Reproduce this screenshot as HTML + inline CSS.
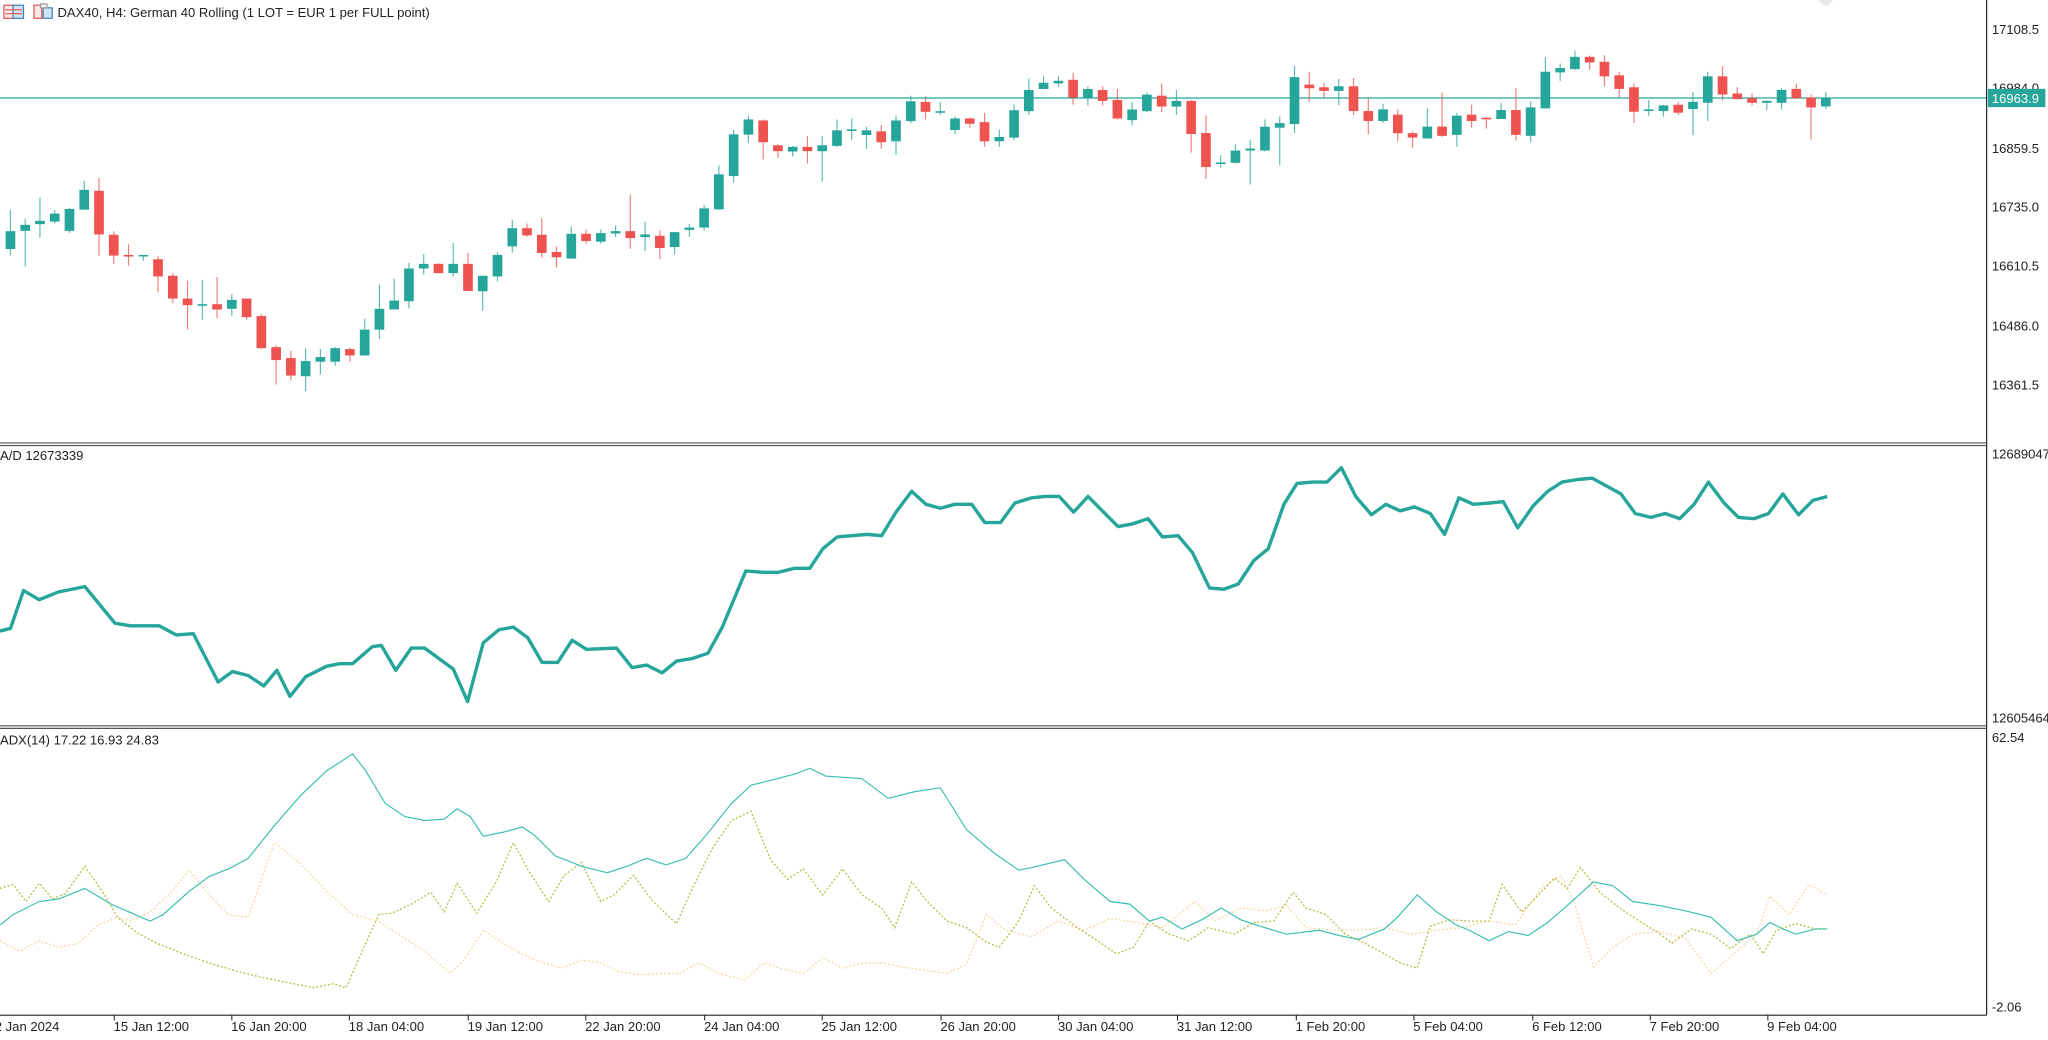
<!DOCTYPE html>
<html><head><meta charset="utf-8">
<style>
html,body{margin:0;padding:0;background:#fff;}
svg{display:block;font-family:"Liberation Sans",sans-serif;}
</style></head>
<body>
<svg id="s" width="2048" height="1040" viewBox="0 0 1568 796" preserveAspectRatio="none" xmlns="http://www.w3.org/2000/svg">
<rect width="1568" height="796" fill="#fff"/>
<line x1="0" y1="75" x2="1521" y2="75" stroke="#26a69a" stroke-width="0.9"/>
<g id="candles"></g>
<g id="ad"></g>
<g id="adx"></g>
<line x1="1521" y1="0" x2="1521" y2="777" stroke="#222" stroke-width="0.9"/>
<line x1="0" y1="777" x2="1521" y2="777" stroke="#222" stroke-width="0.9"/>
<line x1="0" y1="339" x2="1521" y2="339" stroke="#555" stroke-width="0.9"/>
<line x1="0" y1="341" x2="1521" y2="341" stroke="#555" stroke-width="0.9"/>
<line x1="0" y1="555.5" x2="1521" y2="555.5" stroke="#555" stroke-width="0.9"/>
<line x1="0" y1="557.5" x2="1521" y2="557.5" stroke="#555" stroke-width="0.9"/>
<g font-size="10" fill="#222" id="labels">
<text x="1525" y="26">17108.5</text>
<text x="1525" y="71">16984.0</text>
<text x="1525" y="117">16859.5</text>
<text x="1525" y="162">16735.0</text>
<text x="1525" y="207">16610.5</text>
<text x="1525" y="253">16486.0</text>
<text x="1525" y="298">16361.5</text>
<text x="1525" y="351">12689047</text>
<text x="1525" y="553">12605464</text>
<text x="1525" y="568">62.54</text>
<text x="1525" y="774">-2.06</text>
<text x="0" y="352">A/D 12673339</text>
<text x="0" y="570">ADX(14) 17.22 16.93 24.83</text>
<text x="44" y="13">DAX40, H4:  German 40 Rolling (1 LOT = EUR 1 per FULL point)</text>
</g>
<rect x="1522" y="68" width="44" height="14" fill="#26a69a"/>
<text x="1525" y="79" font-size="10" fill="#fff">16963.9</text>
<g stroke-width="0.9">
<rect x="3" y="4" width="7" height="10" fill="#fde8e8" stroke="#e05050"/>
<rect x="10" y="4" width="8" height="10" fill="#cfe3f5" stroke="#3a7cc0"/>
<line x1="4" y1="7.5" x2="17" y2="7.5" stroke="#e05050"/><line x1="4" y1="10.5" x2="17" y2="10.5" stroke="#e05050"/>
<rect x="26" y="4" width="6" height="10" fill="#fde8e8" stroke="#e05050"/>
<rect x="33" y="6" width="7" height="8" fill="#cfe3f5" stroke="#3a7cc0"/>
<rect x="31" y="3" width="5" height="3" fill="#eee" stroke="#999"/>
</g>
<polygon points="1392,0 1404,0 1398,5" fill="#e8e8e8"/>
<g id="time" font-size="10" fill="#222"></g>
</svg>
<script>
const NS="http://www.w3.org/2000/svg";
function el(p,t,a){const e=document.createElementNS(NS,t);for(const k in a)e.setAttribute(k,a[k]);p.appendChild(e);return e;}
const z4=[["g",336,390,272,410],["g",317,335,298,443],["g",305,315,234,356],["g",283,307,272,313],["g",269,335,266,341],["g",211,271,184,271],["r",214,346,175,410],["r",347,410,336,435],["r",408,412,376,440],["g",408,412,408,426],["r",421,473,412,521],["r",471,540,463,554],["r",540,560,486,634],["g",557,560,483,604],["r",557,573,475,599],["g",544,571,527,593],["r",540,596,540,604],["r",593,690,586,692],["r",687,726,682,800],["r",720,773,698,787],["g",729,775,690,820],["g",717,731,692,770],["g",690,731,686,743],["r",693,712,688,731],["g",634,712,601,712],["g",571,634,498,662],["g",546,573,480,573],["g",449,548,432,570],["g",435,449,405,467],["r",435,463,433,463],["g",435,463,372,473],["r",435,517,402,518],["g",471,518,471,577],["g",408,473,400,488],["g",327,382,302,401],["r",327,349,313,353],["r",347,402,297,416],["r",399,415,382,446],["g",344,419,322,419],["r",344,366,331,374],["g",342,368,331,374],["g",336,343,319,354],["r",336,357,225,390],["g",346,354,308,396],["r",350,387,334,421],["g",339,384,339,407]];
const z5=[["g",537,544,526,565],["g",479,537,468,545],["g",376,482,349,484],["g",255,381,241,401],["g",210,256,198,281],["r",213,279,210,331],["r",288,306,285,326],["g",293,307,290,322],["r",293,306,260,343],["g",288,306,260,398],["g",243,290,210,293],["g",240,243,207,272],["g",243,257,232,299],["r",246,279,227,299],["g",213,276,198,318],["g",155,215,138,221],["r",157,187,141,210],["g",185,188,157,196],["g",207,242,201,254],["r",207,223,204,235],["r",218,276,190,293],["g",263,276,240,293],["g",182,265,165,273],["g",121,185,86,196],["g",99,118,79,118],["g",93,101,79,112],["r",90,144,69,165],["g",118,144,110,168],["r",121,154,110,168],["r",151,207,118,210],["g",180,212,157,227],["g",135,185,129,188],["r",138,171,101,188],["g",154,171,121,196],["r",154,254,151,310],["r",251,354,198,390],["g",340,345,318,357],["g",304,341,285,343],["g",298,304,271,407],["g",232,304,210,307],["g",221,235,201,349],["g",82,224,48,251]];
const z6=[["r",135,146,96,187],["r",143,154,131,175],["g",140,154,118,197],["r",140,215,115,227],["r",215,245,175,285],["g",210,245,193,251],["r",226,282,210,307],["r",282,295,277,326],["g",262,298,207,298],["r",262,290,159,293],["g",229,287,221,323],["r",226,245,196,265],["r",235,240,235,268],["g",212,239,190,239],["r",212,287,146,304],["g",204,290,187,309],["g",96,207,52,207],["g",85,98,71,124],["g",51,88,32,91],["r",51,68,47,90],["r",66,110,46,140],["r",107,148,96,175],["r",143,217,132,251],["g",210,215,182,229],["g",198,215,196,232],["r",196,220,187,227],["g",187,209,157,288],["g",110,190,96,245],["r",110,165,79,183],["r",162,179,143,179],["r",176,190,162,198],["g",184,190,184,212],["g",151,190,146,210],["r",148,176,132,179],["r",174,204,165,301],["g",174,201,157,209]];
const all=[];
z4.forEach(c=>all.push([c[0],c[1]*0.253+91.9,c[2]*0.253+91.9,c[3]*0.253+91.9,c[4]*0.253+91.9]));
z5.forEach(c=>all.push([c[0],c[1]*0.253+38.3,c[2]*0.253+38.3,c[3]*0.253+38.3,c[4]*0.253+38.3]));
z6.forEach(c=>all.push([c[0],c[1]*0.253+30.6,c[2]*0.253+30.6,c[3]*0.253+30.6,c[4]*0.253+30.6]));
const cg=document.getElementById("candles");
all.forEach((c,i)=>{
 const x=8+11.3*i, col=c[0]=="g"?"#26a69a":"#ef5350";
 el(cg,"line",{x1:x,x2:x,y1:c[3],y2:c[4],stroke:col,"stroke-width":0.9,"stroke-opacity":0.75});
 const h=Math.max(c[2]-c[1],1.2);
 el(cg,"rect",{x:x-3.7,y:c[1],width:7.4,height:h,fill:col});
});
function pl(g,arr,attrs){let d="";for(let i=0;i<arr.length;i+=2)d+=(i?"L":"M")+arr[i]+" "+arr[i+1];attrs.d=d;attrs.fill="none";el(g,"path",attrs);}
const ad=[0,483,8,481,18,452,30,459,45,453,65,449,88,477,100,479,122,479,135,486,148,485,167,522,178,514,190,517,202,525,212,513,222,533,234,518,250,510,260,508,270,508,285,495,292,494,303,513,315,496,325,496,347,512,358,537,370,492,382,482,393,480,404,488,415,507,427,507,438,490,449,497,472,496,484,511,495,509,507,515,518,506,530,504,542,500,553,480,571,437,584,438,596,438,608,435,620,435,630,420,641,411,652,410,664,409,675,410,686,392,698,376,709,386,720,389,731,386,744,386,754,400,766,400,777,385,790,381,800,380,811,380,822,392,833,380,845,392,856,403,867,401,879,397,890,411,902,410,913,423,926,450,937,451,948,447,960,429,971,420,983,386,993,370,1005,369,1016,369,1027,358,1038,380,1050,394,1061,386,1072,391,1083,388,1095,393,1106,409,1117,381,1128,386,1140,385,1151,384,1162,404,1174,387,1185,376,1196,369,1208,367,1219,366,1230,372,1241,378,1252,393,1264,396,1275,393,1286,397,1297,386,1308,369,1320,385,1331,396,1343,397,1354,393,1365,378,1377,394,1388,383,1399,380];
pl(document.getElementById("ad"),ad,{stroke:"#26a69a","stroke-width":2.6,"stroke-linejoin":"round"});
const g=document.getElementById("adx");
const mdi=[0,720,15,728,30,720,45,725,60,722,75,708,90,702,100,705,115,698,130,684,145,666,160,685,175,700,190,702,210,645,230,661,250,682,270,700,290,705,305,715,325,728,345,745,355,735,370,712,390,725,410,735,430,741,445,735,460,737,475,744,490,746,505,745,520,745,535,737,550,745,570,750,585,737,600,742,615,745,630,733,645,741,660,737,675,737,690,740,710,743,725,745,740,738,755,700,770,712,790,717,810,705,830,712,850,703,870,706,890,710,915,690,930,705,950,695,970,697,985,693,1000,710,1020,712,1040,712,1060,710,1080,715,1100,712,1120,710,1140,705,1160,708,1180,680,1195,670,1205,690,1220,740,1235,725,1250,715,1270,713,1290,718,1310,745,1330,728,1345,715,1355,686,1370,700,1385,677,1399,685];
pl(g,mdi,{stroke:"#f3d9a8","stroke-width":1,"stroke-dasharray":"1.5 1.5"});
const pdi=[0,680,10,677,20,690,30,676,40,688,50,684,65,663,80,685,90,702,105,714,120,722,140,730,160,737,180,743,200,748,220,752,240,756,255,753,265,756,280,722,290,700,300,699,315,692,330,683,340,698,350,676,365,699,380,675,393,645,405,667,420,690,432,670,445,660,460,690,470,685,485,670,500,690,518,707,530,680,545,650,560,628,575,621,590,658,603,673,615,665,630,685,645,665,660,685,675,695,685,710,698,675,710,690,725,705,740,710,755,721,765,725,780,705,792,678,805,695,825,710,840,720,855,730,868,725,880,705,895,715,910,720,925,710,945,715,960,706,975,705,990,683,1000,695,1015,700,1030,715,1045,722,1060,730,1072,737,1085,741,1095,709,1110,704,1125,705,1140,705,1150,677,1165,698,1175,688,1190,672,1200,680,1210,664,1225,683,1240,695,1255,705,1270,714,1280,722,1295,711,1310,715,1325,726,1340,715,1350,730,1360,712,1375,707,1390,711,1399,711];
pl(g,pdi,{stroke:"#b9bd45","stroke-width":1,"stroke-dasharray":"1.5 1.5"});
const adx=[0,708,10,700,30,690,45,688,65,680,85,692,115,705,125,700,145,682,160,671,175,665,190,657,210,632,230,609,250,590,270,577,280,590,295,615,310,625,325,628,340,627,350,619,360,625,370,640,385,637,400,633,410,640,425,655,445,663,465,668,480,663,495,657,510,662,525,657,540,640,560,615,575,601,595,596,610,592,620,588,632,594,660,596,680,611,700,606,720,603,740,635,760,652,780,666,790,664,815,658,830,673,850,690,865,692,880,705,890,702,905,711,920,704,935,695,950,704,965,709,985,715,1010,712,1025,716,1040,719,1060,711,1070,702,1085,685,1100,698,1115,708,1125,712,1140,720,1155,713,1170,716,1185,706,1200,693,1220,675,1235,678,1250,690,1270,693,1290,697,1310,702,1330,720,1345,715,1355,706,1365,711,1375,715,1390,711,1399,711];
pl(g,adx,{stroke:"#3cbfb0","stroke-width":0.9});
const t=document.getElementById("time");
[["2 Jan 2024",-4],["15 Jan 12:00",87],["16 Jan 20:00",177],["18 Jan 04:00",267],["19 Jan 12:00",358],["22 Jan 20:00",448],["24 Jan 04:00",539],["25 Jan 12:00",629],["26 Jan 20:00",720],["30 Jan 04:00",810],["31 Jan 12:00",901],["1 Feb 20:00",992],["5 Feb 04:00",1082],["6 Feb 12:00",1173],["7 Feb 20:00",1263],["9 Feb 04:00",1353]].forEach(a=>{
 const e=el(t,"text",{x:a[1],y:789});e.textContent=a[0];
 el(t,"line",{x1:a[1]+0.5,x2:a[1]+0.5,y1:777,y2:781,stroke:"#222","stroke-width":0.8});
});
</script>
</body></html>
